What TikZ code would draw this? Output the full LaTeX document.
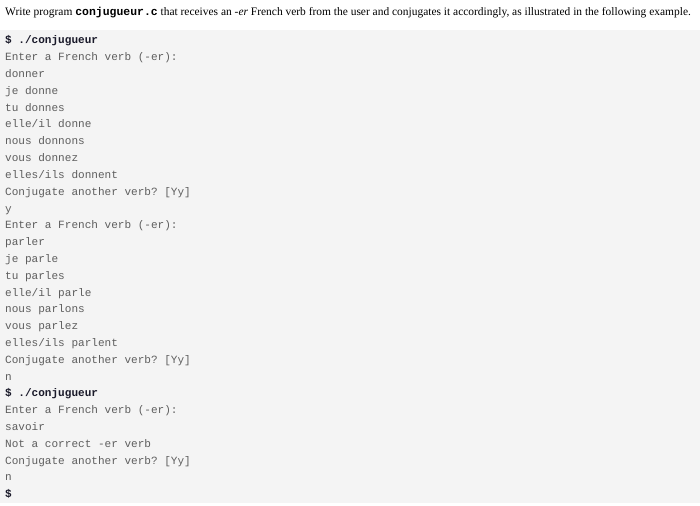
\documentclass[tikz,border=0pt]{standalone}
\usepackage{fontspec}
\setmainfont{Liberation Serif}
\setmonofont{Liberation Mono}
\definecolor{boxbg}{HTML}{F4F4F4}
\definecolor{outtxt}{HTML}{5E5E5E}
\definecolor{cmdtxt}{HTML}{1A1A2A}
\begin{document}
\begin{tikzpicture}[x=1pt,y=-1pt,
  outln/.style={anchor=base west,inner sep=0,font=\ttfamily\fontsize{11.05}{12}\selectfont,text=outtxt},
  cmdln/.style={outln,font=\ttfamily\bfseries\fontsize{11.05}{12}\selectfont,text=cmdtxt}]
\useasboundingbox (0,0) rectangle (700,505);
\fill[white] (0,0) rectangle (700,505);
\fill[boxbg] (0,30) rectangle (700,503);
\node[anchor=base west,inner sep=0,font=\fontsize{11.45}{13}\selectfont] (title) at (5,16)
 {Write program \textbf{\texttt{conjugueur.c}} that receives an \textit{-er} French verb from the user and conjugates it accordingly, as illustrated in the following example.};
\foreach \t [count=\i from 0] in {
 Enter a French verb (-er):, donner, je donne, tu donnes, elle/il donne, nous donnons, vous donnez, elles/ils donnent, Conjugate another verb? [Yy], y,
 Enter a French verb (-er):, parler, je parle, tu parles, elle/il parle, nous parlons, vous parlez, elles/ils parlent, Conjugate another verb? [Yy], n}
 { \node[outln] (a\i) at (5,{44+16.8*(\i+1)}) {\t}; }
\node[cmdln] (c1) at (5,44) {\$ ./conjugueur};
\node[cmdln] (c2) at (5,{44+16.8*21}) {\$ ./conjugueur};
\foreach \t [count=\i from 0] in {Enter a French verb (-er):, savoir, Not a correct -er verb, Conjugate another verb? [Yy], n}
 { \node[outln] (b\i) at (5,{44+16.8*(\i+22)}) {\t}; }
\node[cmdln] (c3) at (5,{44+16.8*27}) {\$};
\end{tikzpicture}
\end{document}
